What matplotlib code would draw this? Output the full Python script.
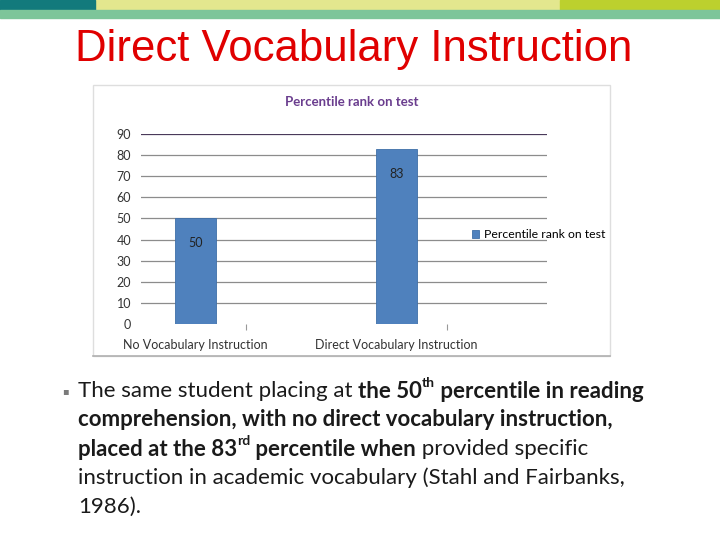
import matplotlib.pyplot as plt
from matplotlib.patches import Rectangle

# datos del gráfico
categorias = ['No Vocabulary Instruction', 'Direct Vocabulary Instruction']
valores = [50, 83]
serie = 'Percentile rank on test'
yticks = [0, 10, 20, 30, 40, 50, 60, 70, 80, 90]

AZUL = '#4f81bd'
FUENTE = ['Lato', 'DejaVu Sans']

fig = plt.figure(figsize=(7.2, 5.4), dpi=100)
W, H = 720, 540

def fx(px):
    return px / W

def fy(py):
    return 1 - py / H

# bandas de colores arriba (plantilla de la diapositiva)
fig.patches.append(Rectangle((0, fy(10)), 1, 10 / H, transform=fig.transFigure, color='#e3e78e', zorder=0))
fig.patches.append(Rectangle((0, fy(10)), fx(95), 10 / H, transform=fig.transFigure, color='#127a7c', zorder=1))
fig.patches.append(Rectangle((fx(560), fy(10)), 1 - fx(560), 10 / H, transform=fig.transFigure, color='#bcd02e', zorder=1))
fig.patches.append(Rectangle((0, fy(18)), 1, 8 / H, transform=fig.transFigure, color='#7dc59a', zorder=1))

fig.text(fx(354), fy(49), 'Direct Vocabulary Instruction', color='#e00000', fontsize=31.5,
         family=['Liberation Sans', 'DejaVu Sans'], ha='center', va='center')

# marco blanco del gráfico
fig.patches.append(Rectangle((fx(93), fy(356)), fx(610 - 93), 271 / H, transform=fig.transFigure,
                             facecolor='white', edgecolor='#dedede', lw=1, zorder=1))
fig.lines.append(plt.Line2D([fx(93), fx(610)], [fy(356), fy(356)], transform=fig.transFigure,
                            color='#b0b0b0', lw=1.2, zorder=2))

ax = fig.add_axes([fx(141), fy(324), fx(547 - 141), (324 - 134) / H])
ax.set_zorder(2)
ax.patch.set_alpha(0)
x = list(range(len(categorias)))
ax.bar(x, valores, width=0.204, color=AZUL, edgecolor='#3f6fa8', lw=0.6, zorder=3, label=serie)
ax.set_xlim(-0.27, 1.75)
ax.set_ylim(0, 90)
ax.set_yticks(yticks)
for v in yticks[1:]:
    ax.axhline(v, color='#4a3a5a' if v == 90 else '#8c8c8c', lw=0.9, zorder=1)
for s in ax.spines.values():
    s.set_visible(False)
ax.tick_params(axis='y', length=0, pad=7, labelsize=9, labelcolor='#333333')
ax.set_xticks(x)
ax.set_xticklabels(categorias)
ax.set_xticks([i + 0.25 for i in x], minor=True)
ax.tick_params(axis='x', which='major', length=0, pad=11, labelsize=9, labelcolor='#333333')
ax.tick_params(axis='x', which='minor', length=4, color='#999999', width=0.8)
for lab in ax.get_xticklabels() + ax.get_yticklabels():
    lab.set_family(FUENTE)

for xi, v in zip(x, valores):
    ax.annotate(str(v), (xi, v), xytext=(0, -18), textcoords='offset points',
                ha='center', va='center', fontsize=9, color='#222222', family=FUENTE)

fig.text(fx(352), fy(102), serie, color='#6a3d8e', fontsize=9.5, fontweight='bold',
         family=FUENTE, ha='center', va='center')
ax.legend(loc='center left', bbox_to_anchor=(fx(461), fy(235)), bbox_transform=fig.transFigure,
          frameon=False, handlelength=0.6, handleheight=0.6, handletextpad=0.4,
          prop={'family': FUENTE, 'size': 8.8})

# texto con viñeta, pieza por pieza para mezclar negrita y superíndices
fig.text(fx(65), fy(391), '\u25aa', color='#7a7a7a', fontsize=7, ha='center', va='center')

lineas = [
    [('The same student placing at ', 'normal', False), ('the 50', 'bold', False), ('th', 'bold', True),
     (' percentile in reading', 'bold', False)],
    [('comprehension, with no direct vocabulary instruction,', 'bold', False)],
    [('placed at the 83', 'bold', False), ('rd', 'bold', True), (' percentile when', 'bold', False),
     (' provided specific', 'normal', False)],
    [('instruction in academic vocabulary (Stahl and Fairbanks,', 'normal', False)],
    [('1986).', 'normal', False)],
]
renderer = fig.canvas.get_renderer()
y0 = 391
for k, linea in enumerate(lineas):
    xpos = 78
    ypx = y0 + k * 29
    for texto, peso, sup in linea:
        t = fig.text(fx(xpos), fy(ypx - (8 if sup else 0)), texto, fontsize=10 if sup else 16,
                     fontweight=peso, family=FUENTE, color='#1a1a1a', ha='left', va='center')
        bb = t.get_window_extent(renderer)
        xpos += bb.width

fig.savefig('out.png', dpi=100)
